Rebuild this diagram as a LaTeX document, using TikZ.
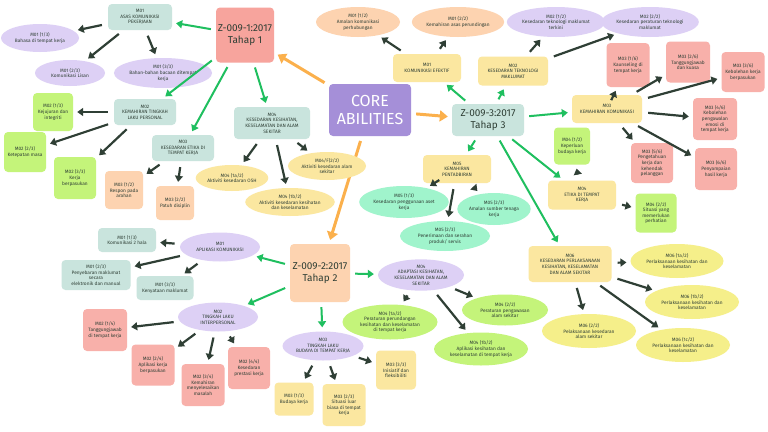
\documentclass[tikz,border=0pt]{standalone}
\usepackage{fontspec}
\setmainfont{Fira Sans}
\usetikzlibrary{shapes.geometric,arrows.meta}
\definecolor{cteal}{HTML}{C9E4DD}
\definecolor{clav}{HTML}{DDD0F5}
\definecolor{ccore}{HTML}{A58FD8}
\definecolor{csalm}{HTML}{F7A49D}
\definecolor{cpeach}{HTML}{FDD3B0}
\definecolor{clime}{HTML}{C4F47A}
\definecolor{cred}{HTML}{F8B0AA}
\definecolor{cyel}{HTML}{FBE7A0}
\definecolor{cmint}{HTML}{A0F4CC}
\definecolor{cbyel}{HTML}{F5EF8A}
\definecolor{cdark}{HTML}{2F3F35}
\definecolor{cgreen}{HTML}{1FBF5F}
\definecolor{corange}{HTML}{FBB04C}
\tikzset{
 base/.style={inner sep=1pt,align=center,text=cdark,font=\fontsize{4.8}{5.6}\selectfont},
 rbox/.style={base,rectangle,rounded corners=4pt},
 ebox/.style={base,ellipse},
 sz/.style 2 args={minimum width=#1pt,minimum height=#2pt},
 darr/.style={draw=cdark,line width=2.2pt,-{Triangle[width=8pt,length=6pt]},shorten >=4pt,shorten <=6pt},
 garr/.style={draw=cgreen,line width=2pt,-{Triangle[width=8pt,length=6pt]},shorten >=4pt,shorten <=5pt},
 oarr/.style={draw=corange,line width=3pt,-{Triangle[width=11pt,length=8pt]},shorten >=4pt,shorten <=5pt},
 big/.style={font=\fontsize{10}{12}\selectfont}
}
\begin{document}
\begin{tikzpicture}[x=1pt,y=-1pt]
\path[use as bounding box,fill=white] (0,0) rectangle (768,431);
\node[rbox,fill=ccore,sz={82}{52},text=white,font=\fontsize{16}{18}\selectfont] (core) at (370,110) {CORE\\ABILITIES};
\node[rbox,fill=csalm,sz={58}{55},big] (t1) at (245,35) {Z-009-1:2017\\Tahap 1};
\node[rbox,fill=cteal,sz={72}{32},big] (t3) at (488,120) {Z-009-3:2017\\Tahap 3};
\node[rbox,fill=cpeach,sz={60}{58},big] (t2) at (320,273) {Z-009-2:2017\\Tahap 2};
\draw[oarr] (core) -- (t1);
\draw[oarr] (core) -- (t3);
\draw[oarr] (core) -- (t2);
% ---- Tahap 1
\node[rbox,fill=cteal,sz={64}{26}] (a1) at (140,17) {M01\\ASAS KOMUNIKASI\\PEKERJAAN};
\node[ebox,fill=clav,sz={78}{28}] (a11) at (40,38) {M01 (1/3)\\Bahasa di tempat kerja};
\node[ebox,fill=clav,sz={70}{26}] (a12) at (70,73) {M01 (2/3)\\Komunikasi Lisan};
\node[ebox,fill=clav,sz={88}{30}] (a13) at (163,73) {M01 (3/3)\\Bahan-bahan bacaan ditempat\\kerja};
\node[rbox,fill=cteal,sz={62}{26}] (a2) at (145,112) {M02\\KEMAHIRAN TINGKAH\\LAKU PERSONAL};
\node[rbox,fill=clime,sz={40}{38}] (a21) at (53,112) {M02 (1/3)\\Kejujuran dan\\integriti};
\node[rbox,fill=clime,sz={42}{40}] (a22) at (25,152) {M02 (2/3)\\Ketepatan masa};
\node[rbox,fill=clime,sz={42}{42}] (a23) at (75,178) {M02 (3/3)\\Kerja\\berpasukan};
\node[rbox,fill=cteal,sz={62}{26}] (a3) at (183,148) {M03\\KESEDARAN ETIKA DI\\TEMPAT KERJA};
\node[rbox,fill=cpeach,sz={38}{38}] (a31) at (124,190) {M03 (1/2)\\Respon pada\\arahan};
\node[rbox,fill=cpeach,sz={38}{34}] (a32) at (175,203) {M03 (2/2)\\Patuh disiplin};
\node[rbox,fill=cteal,sz={76}{32}] (a4) at (272,123) {M04\\KESEDARAN KESIHATAN,\\KESELAMATAN DAN ALAM\\SEKITAR};
\node[ebox,fill=cyel,sz={70}{26}] (a41) at (232,178) {M04 (1a/2)\\Aktiviti kesedaran OSH};
\node[ebox,fill=cyel,sz={82}{28}] (a42) at (290,202) {M04 (1b/2)\\Aktiviti kesedaran kesihatan\\dan keselamatan};
\node[ebox,fill=cyel,sz={78}{28}] (a43) at (327,166) {M04/F(2/2)\\Aktiviti kesedaran alam\\sekitar};
\foreach \n in {a1,a2,a3,a4} \draw[garr] (t1) -- (\n);
\foreach \n in {a11,a12,a13} \draw[darr] (a1) -- (\n);
\foreach \n in {a21,a22,a23} \draw[darr] (a2) -- (\n);
\foreach \n in {a31,a32} \draw[darr] (a3) -- (\n);
\foreach \n in {a41,a42,a43} \draw[darr] (a4) -- (\n);
% ---- Tahap 3
\node[rbox,fill=cyel,sz={68}{28}] (c1) at (427,68) {M01\\KOMUNIKASI EFEKTIF};
\node[ebox,fill=cpeach,sz={84}{30}] (c11) at (358,22) {M01 (1/2)\\Amalan komunikasi\\perhubungan};
\node[ebox,fill=cpeach,sz={86}{30}] (c12) at (458,22) {M01 (2/2)\\Kemahiran asas perundingan};
\node[rbox,fill=cyel,sz={70}{29}] (c2) at (513,71) {M02\\KESEDARAN TEKNOLOGI\\MAKLUMAT};
\node[ebox,fill=clav,sz={87}{30}] (c21) at (556,22) {M02 (1/2)\\Kesedaran teknologi maklumat\\terkini};
\node[ebox,fill=clav,sz={85}{30}] (c22) at (650,22) {M02 (2/2)\\Kesedaran peraturan teknologi\\maklumat};
\node[rbox,fill=cyel,sz={70}{28}] (c3) at (607,109) {M03\\KEMAHIRAN KOMUNIKASI};
\node[rbox,fill=cred,sz={43}{44}] (c31) at (628,65) {M03 (1/6)\\Kaunseling di\\tempat kerja};
\node[rbox,fill=cred,sz={44}{41}] (c32) at (688,62) {M03 (2/6)\\Tanggungjawab\\dan kuasa};
\node[rbox,fill=cred,sz={43}{40}] (c33) at (743,72) {M03 (3/6)\\Kebolehan kerja\\berpasukan};
\node[rbox,fill=cred,sz={44}{42}] (c34) at (715,119) {M03 (4/6)\\Kebolehan\\pengawalan\\emosi di\\tempat kerja};
\node[rbox,fill=cred,sz={42}{40}] (c35) at (652,163) {M03 (5/6)\\Pengetahuan\\kerja dan\\kehendak\\pelanggan};
\node[rbox,fill=cred,sz={42}{42}] (c36) at (716,169) {M03 (6/6)\\Penyampaian\\hasil kerja};
\node[rbox,fill=cyel,sz={68}{29}] (c4) at (582,195) {M04\\ETIKA DI TEMPAT\\KERJA};
\node[rbox,fill=clime,sz={36}{37}] (c41) at (572,146) {M04 (1/2)\\Keperluan\\budaya kerja};
\node[rbox,fill=clime,sz={41}{39}] (c42) at (656,213) {M04 (2/2)\\Situasi yang\\memerlukan\\perhatian};
\node[rbox,fill=cyel,sz={68}{28}] (c5) at (457,169) {M05\\KEMAHIRAN\\PENTADBIRAN};
\node[ebox,fill=cmint,sz={86}{32}] (c51) at (404,202) {M05 (1/3)\\Kesedaran penggunaan aset\\kerja};
\node[ebox,fill=cmint,sz={72}{32}] (c52) at (494,209) {M05 (2/3)\\Amalan sumber tenaga\\kerja};
\node[ebox,fill=cmint,sz={90}{30}] (c53) at (445,236) {M05 (2/3)\\Penerimaan dan serahan\\produk/ servis};
\node[rbox,fill=cyel,sz={83}{36}] (c6) at (570,264) {M06\\KESEDARAN PERLAKSANAAN\\KESIHATAN, KESELAMATAN\\DAN ALAM SEKITAR};
\node[ebox,fill=cbyel,sz={93}{34}] (c61) at (677,261) {M06 (1a/2)\\Perlaksanaan kesihatan dan\\keselamatan};
\node[ebox,fill=cbyel,sz={94}{34}] (c62) at (692,302) {M06 (1b/2)\\Perlaksanaan kesihatan dan\\keselamatan};
\node[ebox,fill=cbyel,sz={94}{34}] (c63) at (589,331) {M06 (2/2)\\Pelaksanaan kesedaran\\alam sekitar};
\node[ebox,fill=cbyel,sz={94}{34}] (c64) at (683,345) {M06 (1c/2)\\Perlaksanaan kesihatan dan\\keselamatan};
\foreach \n in {c1,c2,c3,c4,c5,c6} \draw[garr] (t3) -- (\n);
\foreach \n in {c11,c12} \draw[darr] (c1) -- (\n);
\foreach \n in {c21,c22} \draw[darr] (c2) -- (\n);
\foreach \n in {c31,c32,c33,c34,c35,c36} \draw[darr] (c3) -- (\n);
\foreach \n in {c41,c42} \draw[darr] (c4) -- (\n);
\foreach \n in {c51,c52,c53} \draw[darr] (c5) -- (\n);
\foreach \n in {c61,c62,c63,c64} \draw[darr] (c6) -- (\n);
% ---- Tahap 2
\node[ebox,fill=clav,sz={80}{29}] (b1) at (220,247) {M01\\APLIKASI KOMUNIKASI};
\node[rbox,fill=cteal,sz={58}{24}] (b11) at (127,240) {M01 (1/3)\\Komunikasi 2 hala};
\node[rbox,fill=cteal,sz={69}{30}] (b12) at (96,275) {M01 (2/3)\\Penyebaran maklumat\\secara\\elektronik dan manual};
\node[rbox,fill=cteal,sz={57}{24}] (b13) at (165,288) {M01 (3/3)\\Kenyataan maklumat};
\node[ebox,fill=clav,sz={80}{29}] (b2) at (218,317) {M02\\TINGKAH LAKU\\INTERPERSONAL};
\node[rbox,fill=cred,sz={44}{42}] (b21) at (105,330) {M02 (1/4)\\Tanggungjawab\\di tempat kerja};
\node[rbox,fill=cred,sz={43}{41}] (b22) at (153,365) {M02 (2/4)\\Aplikasi kerja\\berpasukan};
\node[rbox,fill=cred,sz={43}{42}] (b23) at (203,385) {M02 (3/4)\\Kemahiran\\menyelesaikan\\masalah};
\node[rbox,fill=cred,sz={42}{42}] (b24) at (249,368) {M02 (4/4)\\Kesedaran\\prestasi kerja};
\node[ebox,fill=clav,sz={81}{29}] (b3) at (323,346) {M03\\TINGKAH LAKU\\BUDAYA DI TEMPAT KERJA};
\node[rbox,fill=cyel,sz={39}{33}] (b31) at (294,399) {M03 (1/3)\\Budaya kerja};
\node[rbox,fill=cyel,sz={43}{42}] (b32) at (344,405) {M03 (2/3)\\Situasi luar\\biasa di tempat\\kerja};
\node[rbox,fill=cyel,sz={40}{39}] (b33) at (396,370) {M03 (3/3)\\Inisiatif dan\\fleksibiliti};
\node[ebox,fill=clav,sz={86}{30}] (b4) at (421,275) {M04\\ADAPTASI KESIHATAN,\\KESELAMATAN DAN ALAM\\SEKITAR};
\node[ebox,fill=clime,sz={95}{35}] (b41) at (390,322) {M04 (1a/2)\\Peraturan perundangan\\kesihatan dan keselamatan\\di tempat kerja};
\node[ebox,fill=clime,sz={86}{31}] (b42) at (505,310) {M04 (2/2)\\Peraturan pengawasan\\alam sekitar};
\node[ebox,fill=clime,sz={94}{33}] (b43) at (481,349) {M04 (1b/2)\\Aplikasi kesihatan dan\\keselamatan di tempat kerja};
\foreach \n in {b1,b2,b3,b4} \draw[garr] (t2) -- (\n);
\foreach \n in {b11,b12,b13} \draw[darr] (b1) -- (\n);
\foreach \n in {b21,b22,b23,b24} \draw[darr] (b2) -- (\n);
\foreach \n in {b31,b32,b33} \draw[darr] (b3) -- (\n);
\foreach \n in {b41,b42,b43} \draw[darr] (b4) -- (\n);
\end{tikzpicture}
\end{document}
